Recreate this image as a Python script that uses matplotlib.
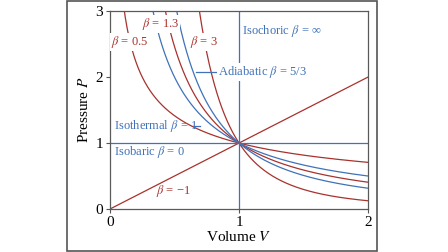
import numpy as np
import matplotlib
matplotlib.use('Agg')
import matplotlib.pyplot as plt
from matplotlib.patches import Rectangle

plt.rcParams['font.family'] = ['Liberation Serif', 'DejaVu Serif']
plt.rcParams['mathtext.fontset'] = 'stix'

red = '#a8322d'
blue = '#3f72b8'

# показатели политропы P * V^beta = 1
betas_red = [0.5, 1.3, 3]
betas_blue = [1, 5/3]
beta_line = -1  # P = V

fig = plt.figure(figsize=(4.48, 2.52), dpi=100)
ax = fig.add_axes([0.2455, 0.1706, 0.576, 0.7854])

v = np.linspace(0.05, 2, 600)
for b in betas_red:
    ax.plot(v, v ** (-b), color=red, lw=0.9)
for b in betas_blue:
    ax.plot(v, v ** (-b), color=blue, lw=0.9)
ax.plot([0, 2], [0, 2], color=red, lw=0.9)
ax.axhline(1, color=blue, lw=0.9)
ax.axvline(1, color=blue, lw=0.9)

ax.set_xlim(0, 2)
ax.set_ylim(0, 3)
ax.set_xticks([0, 1, 2])
ax.set_yticks([0, 1, 2, 3])
ax.tick_params(direction='out', length=3, width=0.8, colors='#555555',
               labelcolor='black', labelsize=11, pad=2)
for s in ax.spines.values():
    s.set_color('#5a5a5a')
    s.set_linewidth(0.9)
ax.set_xlabel('Volume $V$', fontsize=11, labelpad=1)
ax.set_ylabel('Pressure $P$', fontsize=11, labelpad=3)

fs = 9
bb = dict(facecolor='white', edgecolor='none', pad=0.6)
ax.text(0.155, 2.53, r'$\beta$ = 0.5', color=red, fontsize=fs, ha='center', va='center', bbox=bb)
ax.text(0.39, 2.80, r'$\beta$ = 1.3', color=red, fontsize=fs, ha='center', va='center', bbox=bb)
ax.text(0.73, 2.53, r'$\beta$ = 3', color=red, fontsize=fs, ha='center', va='center', bbox=bb)
ax.text(0.49, 0.27, '$\\beta$ = \u22121', color=red, fontsize=fs, ha='center', va='center')
ax.text(1.02, 2.70, 'Isochoric $\\beta$ = \u221e', color=blue, fontsize=fs, ha='left', va='center')
ax.text(0.84, 2.08, r'Adiabatic $\beta$ = 5/3', color=blue, fontsize=fs, ha='left', va='center', bbox=bb)
ax.plot([0.67, 0.82], [2.08, 2.08], color=blue, lw=0.9)
ax.text(0.03, 1.26, r'Isothermal $\beta$ = 1', color=blue, fontsize=fs, ha='left', va='center')
ax.plot([0.64, 0.70], [1.26, 1.26], color=blue, lw=0.9)
ax.text(0.03, 0.86, r'Isobaric $\beta$ = 0', color=blue, fontsize=fs, ha='left', va='center')

# рамка вокруг рисунка
fig.patches.append(Rectangle((67 / 448, 1 / 252), 310 / 448, 250 / 252,
                             transform=fig.transFigure, fill=False,
                             edgecolor='#555555', lw=1.2))

fig.savefig('out.png', dpi=100)
